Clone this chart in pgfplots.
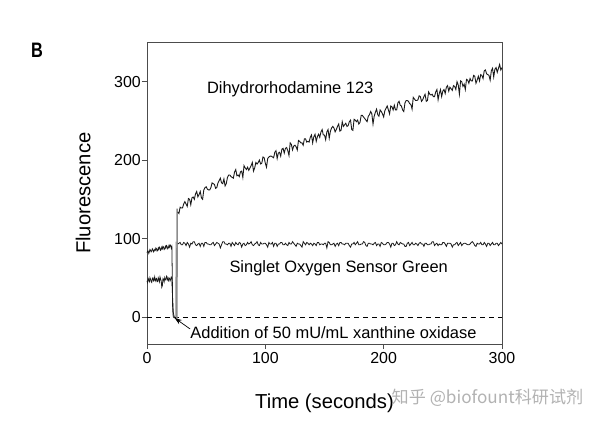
\documentclass[border=0pt]{standalone}
\usepackage{pgfplots}
\pgfplotsset{compat=1.18}
\usepackage{fontspec}
\setmainfont{Liberation Sans}
\newfontfamily\cjk{Noto Sans CJK SC}
\usetikzlibrary{arrows.meta}
\begin{document}
\begin{tikzpicture}
\path[use as bounding box] (-147bp,-78bp) rectangle (452bp,344bp);
\begin{axis}[
  scale only axis, width=355bp, height=301.5bp,
  xmin=0, xmax=300, ymin=-34.5, ymax=350,
  xtick={0,100,200,300}, ytick={0,100,200,300},
  tick align=outside, tick pos=left,
  major tick length=5bp,
  axis line style={black!70, line width=0.8pt},
  every tick/.style={black!70, line width=0.8pt},
  /pgf/number format/assume math mode=true,
  ticklabel style={font=\fontsize{16}{19}\selectfont},
  xticklabel style={inner sep=2bp, yshift=-1bp},
  yticklabel style={inner sep=1bp},
  xlabel={Time (seconds)}, ylabel={Fluorescence},
  xlabel style={font=\fontsize{20.3}{24}\selectfont, at={(axis description cs:0.5,-0.197)}, anchor=center},
  ylabel style={font=\fontsize{20.3}{24}\selectfont, at={(axis description cs:-0.18,0.5)}, anchor=center},
  clip=false,
]
\addplot[black, line width=0.7pt, dash pattern=on 5bp off 4bp] coordinates {(0,0) (300,0)};
% SOSG before addition
\addplot[black!90, line width=0.8pt] coordinates {
(0,82) (0.5,84) (1,84) (1.5,81) (2,83) (2.5,86) (3,85) (3.5,83) (4,84) (4.5,87) (5,86) (5.5,83) (6,84) (6.5,86) (7,85) (7.5,88) (8,87) (8.5,84) (9,85) (9.5,88) (10,86)
(10.5,89) (11,88) (11.5,85) (12,86) (12.5,89) (13,87) (13.5,90) (14,89) (14.5,86) (15,87) (15.5,90) (16,88) (16.5,91) (17,90) (17.5,87) (18,88) (18.5,91) (19,89) (19.5,92) (20,91) (20.5,88) (21,90)
(21.3,60) (21.7,10) (22.2,0) (23,-1) (24,0)
};
% DHR before addition
\addplot[black!90, line width=0.8pt] coordinates {
(0,46) (0.5,44) (1,49) (1.5,47) (2,45) (2.5,50) (3,48) (3.5,45) (4,44) (4.5,49) (5,50) (5.5,46) (6,47) (6.5,51) (7,46) (7.5,48) (8,49) (8.5,45) (9,45) (9.5,50) (10,48)
(10.5,45) (11,51) (11.5,48) (12,46) (12.5,38) (13,40) (13.5,49) (14,48) (14.5,45) (15,50) (15.5,47) (16,47) (16.5,52) (17,51) (17.5,47) (18,46) (18.5,50) (19,49) (19.5,46) (20,48) (20.5,51) (21,50)
(21.6,25) (22.2,6) (23,0) (24,-2) (24.8,-2)
};
% recovery after addition (grey traces)
\addplot[black!45, line width=1.6pt] coordinates {(25.2,-2) (25.5,138)};
\addplot[black!45, line width=1.0pt] coordinates {(24.4,0) (24.6,96)};
% SOSG after addition
\addplot[black!90, line width=0.8pt] coordinates {
(26,93) (27,94) (28,95) (29,92) (30,92) (31,95) (32,94) (33,91) (34,95) (35,93) (36,89) (37,94) (38,93) (39,96) (40,96) (41,92) (42,91) (43,93) (44,94) (45,90) (46,94) (47,94) (48,90) (49,95) (50,95)
(51,93) (52,93) (53,92) (54,92) (55,94) (56,95) (57,91) (58,93) (59,95) (60,94) (61,93) (62,88) (63,92) (64,96) (65,96) (66,93) (67,93) (68,92) (69,94) (70,94) (71,90) (72,95) (73,93) (74,91) (75,95)
(76,93) (77,92) (78,95) (79,94) (80,89) (81,93) (82,94) (83,91) (84,92) (85,95) (86,93) (87,94) (88,96) (89,92) (90,91) (91,93) (92,94) (93,96) (94,92) (95,91) (96,95) (97,93) (98,93) (99,94) (100,94)
(101,92) (102,89) (103,95) (104,93) (105,93) (106,95) (107,90) (108,94) (109,94) (110,90) (111,93) (112,93) (113,95) (114,95) (115,92) (116,92) (117,94) (118,92) (119,91) (120,95) (121,93) (122,93) (123,96) (124,94) (125,92)
(126,90) (127,94) (128,93) (129,93) (130,91) (131,89) (132,96) (133,94) (134,92) (135,95) (136,94) (137,92) (138,94) (139,93) (140,91) (141,94) (142,93) (143,91) (144,95) (145,95) (146,92) (147,93) (148,93) (149,92) (150,94)
(151,94) (152,88) (153,96) (154,95) (155,92) (156,92) (157,93) (158,94) (159,90) (160,93) (161,94) (162,91) (163,95) (164,95) (165,93) (166,93) (167,92) (168,94) (169,94) (170,94) (171,91) (172,89) (173,93) (174,93) (175,95)
(176,92) (177,94) (178,96) (179,92) (180,92) (181,93) (182,93) (183,96) (184,95) (185,91) (186,90) (187,94) (188,94) (189,93) (190,93) (191,92) (192,94) (193,95) (194,91) (195,93) (196,93) (197,90) (198,95) (199,94) (200,92)
(201,92) (202,93) (203,95) (204,95) (205,93) (206,89) (207,94) (208,94) (209,91) (210,92) (211,96) (212,93) (213,92) (214,95) (215,94) (216,93) (217,93) (218,90) (219,90) (220,94) (221,95) (222,91) (223,93) (224,95) (225,92)
(226,92) (227,94) (228,93) (229,91) (230,94) (231,95) (232,93) (233,93) (234,90) (235,94) (236,94) (237,92) (238,92) (239,93) (240,93) (241,96) (242,96) (243,91) (244,93) (245,94) (246,91) (247,93) (248,92) (249,92) (250,95)
(251,95) (252,93) (253,90) (254,94) (255,94) (256,94) (257,93) (258,89) (259,92) (260,92) (261,94) (262,95) (263,91) (264,93) (265,95) (266,91) (267,93) (268,94) (269,94) (270,93) (271,92) (272,92) (273,93) (274,95) (275,96)
(276,94) (277,91) (278,90) (279,94) (280,93) (281,93) (282,95) (283,92) (284,92) (285,95) (286,93) (287,90) (288,94) (289,94) (290,91) (291,93) (292,95) (293,92) (294,92) (295,94) (296,94) (297,91) (298,93) (299,95) (300,93)
};
% DHR after addition
\addplot[black!90, line width=0.9pt] coordinates {
(26,134) (27,132) (28,140) (29,139) (30,139) (31,144) (32,147) (33,144) (34,141) (35,151) (36,150) (37,143) (38,152) (39,153) (40,150) (41,157) (42,160) (43,153) (44,156) (45,160) (46,152) (47,150) (48,162) (49,165) (50,166)
(51,163) (52,162) (53,162) (54,165) (55,171) (56,170) (57,169) (58,164) (59,165) (60,171) (61,174) (62,177) (63,171) (64,170) (65,176) (66,167) (67,170) (68,178) (69,181) (70,181) (71,179) (72,178) (73,177) (74,185) (75,188)
(76,180) (77,181) (78,179) (79,185) (80,186) (81,178) (82,193) (83,190) (84,188) (85,191) (86,187) (87,190) (88,193) (89,197) (90,186) (91,190) (92,197) (93,195) (94,197) (95,200) (96,195) (97,196) (98,204) (99,203) (100,196)
(101,191) (102,202) (103,204) (104,205) (105,205) (106,204) (107,203) (108,210) (109,212) (110,202) (111,209) (112,210) (113,205) (114,214) (115,215) (116,209) (117,215) (118,216) (119,212) (120,206) (121,222) (122,220) (123,213) (124,218) (125,219)
(126,217) (127,213) (128,225) (129,224) (130,222) (131,222) (132,219) (133,227) (134,227) (135,223) (136,224) (137,223) (138,229) (139,232) (140,222) (141,230) (142,233) (143,224) (144,230) (145,233) (146,229) (147,236) (148,239) (149,232) (150,232)
(151,226) (152,236) (153,239) (154,228) (155,237) (156,241) (157,243) (158,241) (159,236) (160,239) (161,243) (162,246) (163,237) (164,238) (165,249) (166,243) (167,245) (168,247) (169,243) (170,244) (171,249) (172,251) (173,239) (174,238) (175,252)
(176,251) (177,249) (178,251) (179,246) (180,248) (181,257) (182,257) (183,255) (184,253) (185,251) (186,249) (187,256) (188,258) (189,262) (190,259) (191,246) (192,256) (193,261) (194,265) (195,258) (196,256) (197,264) (198,262) (199,259) (200,255)
(201,263) (202,266) (203,269) (204,264) (205,259) (206,269) (207,268) (208,264) (209,270) (210,264) (211,264) (212,273) (213,275) (214,270) (215,269) (216,264) (217,262) (218,273) (219,276) (220,276) (221,275) (222,272) (223,271) (224,265) (225,280)
(226,278) (227,276) (228,276) (229,277) (230,282) (231,281) (232,275) (233,277) (234,281) (235,284) (236,275) (237,276) (238,287) (239,284) (240,283) (241,284) (242,281) (243,281) (244,287) (245,290) (246,277) (247,285) (248,290) (249,281) (250,288)
(251,290) (252,285) (253,293) (254,295) (255,288) (256,293) (257,291) (258,289) (259,295) (260,294) (261,290) (262,300) (263,296) (264,284) (265,301) (266,300) (267,294) (268,297) (269,290) (270,303) (271,302) (272,298) (273,304) (274,301) (275,301)
(276,308) (277,307) (278,298) (279,302) (280,307) (281,301) (282,309) (283,308) (284,304) (285,314) (286,315) (287,310) (288,309) (289,308) (290,302) (291,314) (292,317) (293,306) (294,316) (295,318) (296,312) (297,317) (298,322) (299,315) (300,318)
};
\node[font=\fontsize{16.5}{20}\selectfont] at (axis cs:121,290) {Dihydrorhodamine 123};
\node[font=\fontsize{16.5}{20}\selectfont] at (axis cs:162,62.5) {Singlet Oxygen Sensor Green};
\node[font=\fontsize{16.5}{20}\selectfont] at (axis cs:157.6,-20.4) {Addition of 50 mU/mL xanthine oxidase};
\draw[-{Stealth[length=7bp,width=5bp]}, line width=0.7pt] (axis cs:36.4,-15.3) -- (axis cs:23.5,-1.5);
\end{axis}
\node[font=\fontsize{21}{24}\selectfont\bfseries] at (-110bp,294bp) {\scalebox{0.78}[1]{B}};
\node[font=\fontsize{17.2}{20}\selectfont\cjk, text=black!30] at (340.5bp,-54bp) {知乎 @biofount科研试剂};
\end{tikzpicture}
\end{document}
